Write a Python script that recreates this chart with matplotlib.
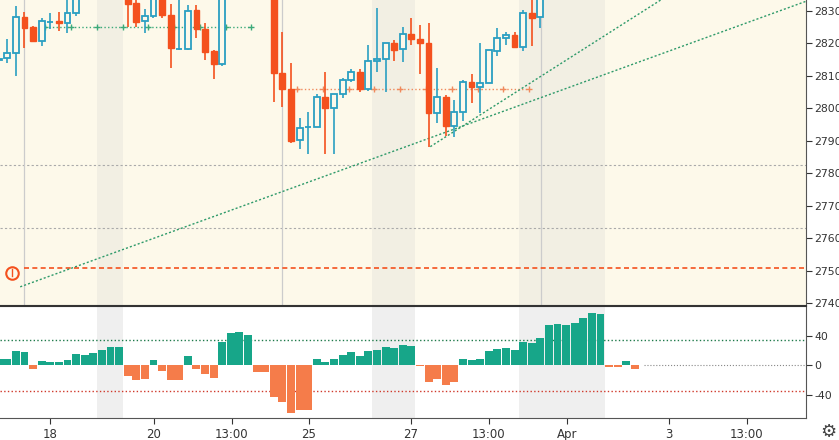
import matplotlib
matplotlib.use("Agg")
import matplotlib.pyplot as plt
import numpy as np

# candle data (index-based); off-chart ones estimated
opens = [2814.9,2815.4,2817.0,2828.1,2825.0,2820.8,2826.7,2826.9,2826.2,2829.3,
         2836,2840,2843,2846,2844,2840,2832.6,2826.8,2828.5,2835,
         2828.8,2818.4,2818.4,2830.3,2824.4,2817.7,2813.6,2840,2845,2848,
         2846,2842,2838,2811.0,2805.9,2790.2,2794.3,2794.3,2803.4,2800.0,
         2804.3,2808.7,2811.2,2805.9,2814.5,2815.1,2820.0,2818.2,2822.9,2821.3,
         2820.0,2798.5,2803.4,2794.6,2798.8,2808.2,2806.5,2807.7,2817.8,2821.6,
         2822.6,2819.0,2829.5,2828.1]
closes = [2815.3,2817.0,2828.1,2824.9,2820.8,2826.9,2826.7,2826.2,2829.3,2836,
          2840,2843,2846,2844,2840,2832.2,2826.7,2828.5,2834,2828.7,
          2818.5,2818.4,2830.1,2824.4,2817.5,2813.6,2840,2845,2848,2846,
          2842,2838,2810.8,2805.9,2790.0,2794.1,2794.4,2803.4,2800.0,2804.3,
          2808.7,2811.2,2805.9,2814.6,2815.1,2820.2,2818.0,2822.9,2821.3,2820.0,
          2798.5,2803.4,2794.6,2798.8,2808.2,2806.5,2807.7,2818.0,2821.6,2822.6,
          2819.0,2829.3,2827.9,2835]
highs = [2816.5,2821.3,2831.5,2829.7,2825.4,2827.7,2829.3,2829.7,2836,2838,
         2842,2845,2848,2848,2846,2842,2838,2830.5,2836,2837,
         2832.1,2840,2831.8,2831.8,2826.2,2818,2842,2847,2850,2849,
         2845,2842,2840,2823.6,2813.9,2796.9,2799.0,2804.5,2811.3,2804.3,
         2809.5,2812.2,2812.0,2819.5,2830.8,2820.2,2821.0,2825.0,2827.7,2825.7,
         2826.4,2812.3,2804.1,2802.6,2808.8,2810.6,2820.0,2818.0,2824.7,2823.5,
         2823.5,2830.4,2836,2838]
lows = [2814.5,2814.1,2810.0,2818.7,2820.5,2819.3,2824.4,2823.9,2823.1,2828.6,
        2834,2838,2841,2842,2838,2825.0,2825.0,2823.3,2828.0,2828.0,
        2812.5,2818.0,2818.0,2821.6,2815.0,2809.1,2813.0,2838,2843,2844,
        2840,2836,2802.0,2800.5,2789.4,2787.4,2785.8,2794.3,2785.8,2785.8,
        2803.3,2808.0,2805.0,2805.5,2811.3,2805.1,2814.6,2814.4,2819.5,2810.6,
        2788.2,2795.6,2791.5,2791.3,2796.0,2801.7,2798.5,2807.7,2816.2,2819.5,
        2818.7,2817.8,2819.2,2824.7]

# oscillator histogram
hist = [8.6,8.6,20,17.6,-4.5,6.3,5,5,7.7,15.8,14.5,17,21,25,25,-14,-19.4,-18,7.7,-8,
        -19.4,-19.4,12.2,-5,-11.8,-17.6,31.2,43.4,44.3,40.7,-9.5,-9.5,-43,-48.8,-63.7,-60.6,-59.7,
        9,5,9,14.5,17.6,12.2,20,21.2,25.3,24,28,26.7,-1.4,-23,-19,-27,-23,9,7.7,9,19,22.6,24,
        21.2,31.2,29.8,37,54,56,55,57.4,64,70,68.7,-2.7,-2.7,5.4,-4.5,0.5]

tick_pos = [5.97,18.06,27.13,36.08,47.94,57.0,66.08,77.94,87.0]
tick_labels = ["18","20","13:00","25","27","13:00","Apr","3","13:00"]
price_ticks = [2740,2750,2760,2770,2780,2790,2800,2810,2820,2830]
osc_ticks = [40,0,-40]

UP = "#2A9FC2"; DN = "#F4511E"
HUP = "#17A689"; HDN = "#F57C4A"

W, H = 839, 440
fig = plt.figure(figsize=(W/100, H/100), dpi=100)
fig.patch.set_facecolor("white")
ax = fig.add_axes([0, 1-305/H, 806/W, 305/H])
ax2 = fig.add_axes([0, 1-418/H, 806/W, 112/H])
xlim = (0.151, 93.9)
for a in (ax, ax2):
    a.set_xlim(*xlim)
    for s in ("left", "top"):
        a.spines[s].set_visible(False)
    a.spines["right"].set_color("#555555")
    a.yaxis.tick_right()
ax.set_facecolor("#FDF9EA")
ax2.set_facecolor("white")
ax.set_ylim(2739.4, 2833.4)
ax2.set_ylim(-71, 80)
ax.spines["bottom"].set_color("#333333")
ax2.spines["top"].set_visible(True); ax2.spines["top"].set_color("#333333")
ax2.spines["bottom"].set_color("#555555")

# session shading
for a, c in ((ax, "#F2EFE3"), (ax2, "#EFEFEF")):
    for s, e in ((11.4, 14.5), (43.4, 48.4), (60.5, 70.5)):
        a.axvspan(s, e, color=c, zorder=0, lw=0)

# reference lines
for v in (2782.5, 2763.1):
    ax.axhline(v, color="#AAAAAA", lw=0.8, ls=(0, (2, 2)), zorder=1)
for v in (2.9, 33.0, 63.1):
    ax.axvline(v, color="#CCCCCC", lw=0.9, zorder=1)
ax.plot([2.9, xlim[1]], [2750.8, 2750.8], color=DN, lw=1.2, ls=(0, (3, 2)), zorder=2)
ax.plot([1.5], [2749.2], marker="o", ms=9, mfc="none", mec=DN, mew=1.5, zorder=3)
ax.plot([1.5, 1.5], [2748.3, 2750.4], color=DN, lw=1, zorder=3)
xs1 = np.arange(5.4, 31.4, 3.0)
ax.plot(xs1, [2825.1]*len(xs1), ls=":", color="#3DAA7A", marker="+", ms=4, lw=1, zorder=2)
xs2 = np.arange(34.7, 63.3, 3.0)
ax.plot(xs2, [2806.0]*len(xs2), ls=":", color="#F08A5D", marker="+", ms=4, lw=1, zorder=2)

# trend lines
ax.plot([2.5, xlim[1]], [2745.0, 2833.0], color="#2E9A6A", lw=1, ls=(0, (1.5, 1.5)), zorder=2)
ax.plot([50.2, 77.0], [2788.2, 2833.4], color="#2E9A6A", lw=1, ls=(0, (1.5, 1.5)), zorder=2)

# candles
idx = np.arange(len(opens))
o = np.array(opens); c = np.array(closes)
up = c >= o
ax.vlines(idx, lows, highs, colors=np.where(up, UP, DN), lw=1.2, zorder=3)
ax.bar(idx[up], (c - o)[up], bottom=o[up], width=0.68, facecolor="#FDF9EA",
       edgecolor=UP, lw=1.3, zorder=4)
ax.bar(idx[~up], (c - o)[~up], bottom=o[~up], width=0.68, facecolor=DN,
       edgecolor=DN, lw=1, zorder=4)

# oscillator
hi = np.arange(len(hist)); hv = np.array(hist)
ax2.bar(hi, hv, width=0.92, color=np.where(hv >= 0, HUP, HDN), zorder=3)
ax2.axhline(34.5, color="#1E7A4A", lw=1, ls=":", zorder=2)
ax2.axhline(-34, color="#D0392B", lw=1, ls=":", zorder=2)
ax2.plot([hi[-1], xlim[1]], [0, 0], color="#888888", lw=0.8, ls=":", zorder=2)

ax.set_yticks(price_ticks)
ax.set_yticklabels([str(t) for t in price_ticks])
ax2.set_yticks(osc_ticks)
ax2.set_yticklabels([str(t) for t in osc_ticks])
for a in (ax, ax2):
    a.tick_params(axis="y", labelsize=7.8, colors="#333333", length=4, pad=2)
ax.set_xticks([])
ax2.set_xticks(tick_pos)
ax2.set_xticklabels(tick_labels)
ax2.tick_params(axis="x", labelsize=8.5, colors="#333333", length=4, pad=3)
fig.text(828/W, 1-432/H, "\u2699", fontsize=13, ha="center", va="center", color="#444444")

fig.savefig("out.png", dpi=100)
